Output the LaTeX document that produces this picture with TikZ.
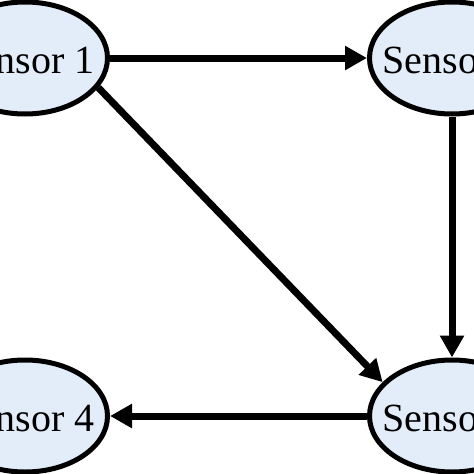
\documentclass[tikz,border=0pt]{standalone}
\usepackage{fontspec}
\setmainfont{Liberation Serif}
\usetikzlibrary{shapes.geometric,arrows.meta}
\definecolor{nodefill}{RGB}{227,236,249}
\begin{document}
\begin{tikzpicture}[x=1pt,y=-1pt,
  sensor/.style={ellipse,draw=black,line width=5pt,fill=nodefill,minimum width=165pt,minimum height=112pt,inner sep=0pt,
    label={[font=\fontsize{40}{44}\selectfont,yshift=-2pt]center:#1}},
  link/.style={line width=7pt,-{Triangle[length=22pt,width=23pt]}}]
\useasboundingbox (0,0) rectangle (474,474);
\begin{scope}
\clip (0,0) rectangle (474,474);
\node[sensor=Sensor 1] (s1) at (25,58) {};
\node[sensor=Sensor 2] (s2) at (452,58) {};
\node[sensor=Sensor 3] (s3) at (452,416) {};
\node[sensor=Sensor 4] (s4) at (25,416) {};
\draw[link] (s1) -- (s2);
\draw[link] (s2) -- (s3);
\draw[link] (s1.-22.6) -- (s3.154);
\draw[link] (s3) -- (s4);
\end{scope}
\end{tikzpicture}
\end{document}
